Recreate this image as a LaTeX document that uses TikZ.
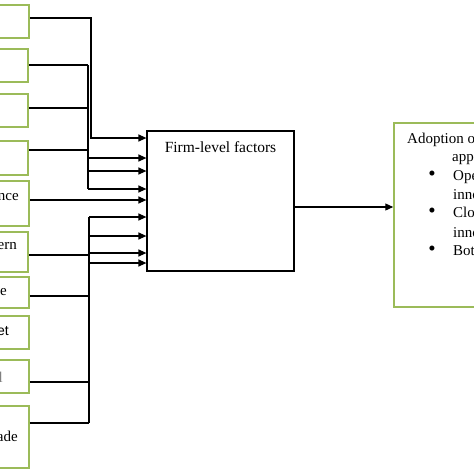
\documentclass[tikz,border=0pt]{standalone}
\usepackage{fontspec}
\setmainfont{Liberation Serif}
\newfontfamily\sansf{Liberation Sans}
\usetikzlibrary{arrows.meta}
\definecolor{boxgreen}{RGB}{155,187,89}
\begin{document}
\begin{tikzpicture}[x=1pt,y=-1pt,
 lbox/.style={draw=boxgreen,line width=1.5pt,fill=white,minimum width=120pt,inner sep=0pt},
 conn/.style={line width=1.2pt,black},
 arr/.style={conn,-{Triangle[length=8pt,width=7pt]}},
 txt/.style={font=\fontsize{15}{18}\selectfont,inner sep=0pt},
 bul/.style={font=\fontsize{21}{21}\selectfont,inner sep=0pt,anchor=center}]
\path[use as bounding box,fill=white] (0,0) rectangle (474,474);
\clip (0,0) rectangle (474,474);
% left boxes
\node[lbox,minimum height=33pt] (b1) at (-31,21.5) {};
\node[lbox,minimum height=33pt] (b2) at (-32,65.5) {};
\node[lbox,minimum height=33pt] (b3) at (-32,110.5) {};
\node[lbox,minimum height=34pt] (b4) at (-32,158) {};
\node[lbox,minimum height=45pt] (b5) at (-31,203.5) {};
\node[lbox,minimum height=40pt] (b6) at (-32,252) {};
\node[lbox,minimum height=31pt] (b7) at (-31,292.5) {};
\node[lbox,minimum height=33pt] (b8) at (-31,332.5) {};
\node[lbox,minimum height=33pt] (b9) at (-31,376.5) {};
\node[lbox,minimum height=62pt] (b10) at (-31,437) {};
% left texts (cut off by the left edge, as in the reference)
\node[txt,anchor=base east] (t5) at (19,200) {Experience};
\node[txt,anchor=base east] (t6) at (17,249.5) {Pattern};
\node[txt,anchor=base east] (t7) at (7,295.5) {Firm size};
\node[txt,anchor=base east,font=\sansf\fontsize{14}{17}\selectfont] (t8) at (9,335) {Target market};
\node[txt,anchor=base east,text=gray] (t9) at (3,382) {Capital};
\node[txt,anchor=base east] (t10) at (18,441) {Foreign trade};
% firm-level box
\node[draw,line width=1.2pt,minimum width=147pt,minimum height=140pt,inner sep=0pt] (firm) at (220.5,201) {};
\node[txt,anchor=base,font=\fontsize{15.5}{18}\selectfont] (ft) at (220.5,152) {Firm-level factors};
% right box
\node[draw=boxgreen,line width=1.5pt,minimum width=200pt,minimum height=184pt,inner sep=0pt] (res) at (494,215) {};
\node[txt,anchor=base west] (r1) at (407,143) {Adoption of innovation};
\node[txt,anchor=base west] (r2) at (452,161) {approach};
\node[bul] (bu1) at (432,175.5) {\textbullet};
\node[txt,anchor=base west] (r3) at (453,180) {Open};
\node[txt,anchor=base west] (r4) at (453,199) {innovation};
\node[bul] (bu2) at (432,212.5) {\textbullet};
\node[txt,anchor=base west] (r5) at (453,217) {Closed};
\node[txt,anchor=base west] (r6) at (453,237) {innovation};
\node[bul] (bu3) at (432,250.5) {\textbullet};
\node[txt,anchor=base west] (r7) at (453,255) {Both};
% upper connectors
\draw[arr] (b1.east |- 0,18) -| (91,138) -- (firm.west |- 0,138);
\draw[conn] (b2.east |- 0,65) -- (88,65);
\draw[conn] (b3.east |- 0,108) -- (88,108);
\draw[conn] (b4.east |- 0,150) -- (88,150);
\draw[conn] (88,65) -- (88,189);
\foreach \y in {158,171,189} \draw[arr] (88,\y) -- (firm.west |- 0,\y);
% direct
\draw[arr] (b5.east |- 0,200) -- (firm.west |- 0,200);
% lower connectors
\draw[conn] (89,217) -- (89,423);
\foreach \y in {217,236,253,263} \draw[arr] (89,\y) -- (firm.west |- 0,\y);
\draw[conn] (b6.east |- 0,255) -- (89,255);
\draw[conn] (b7.east |- 0,296) -- (89,296);
\draw[conn] (b9.east |- 0,382) -- (89,382);
\draw[conn] (b10.east |- 0,423) -- (89,423);
% output
\draw[arr] (firm.east |- 0,207) -- (res.west |- 0,207);
\end{tikzpicture}
\end{document}
